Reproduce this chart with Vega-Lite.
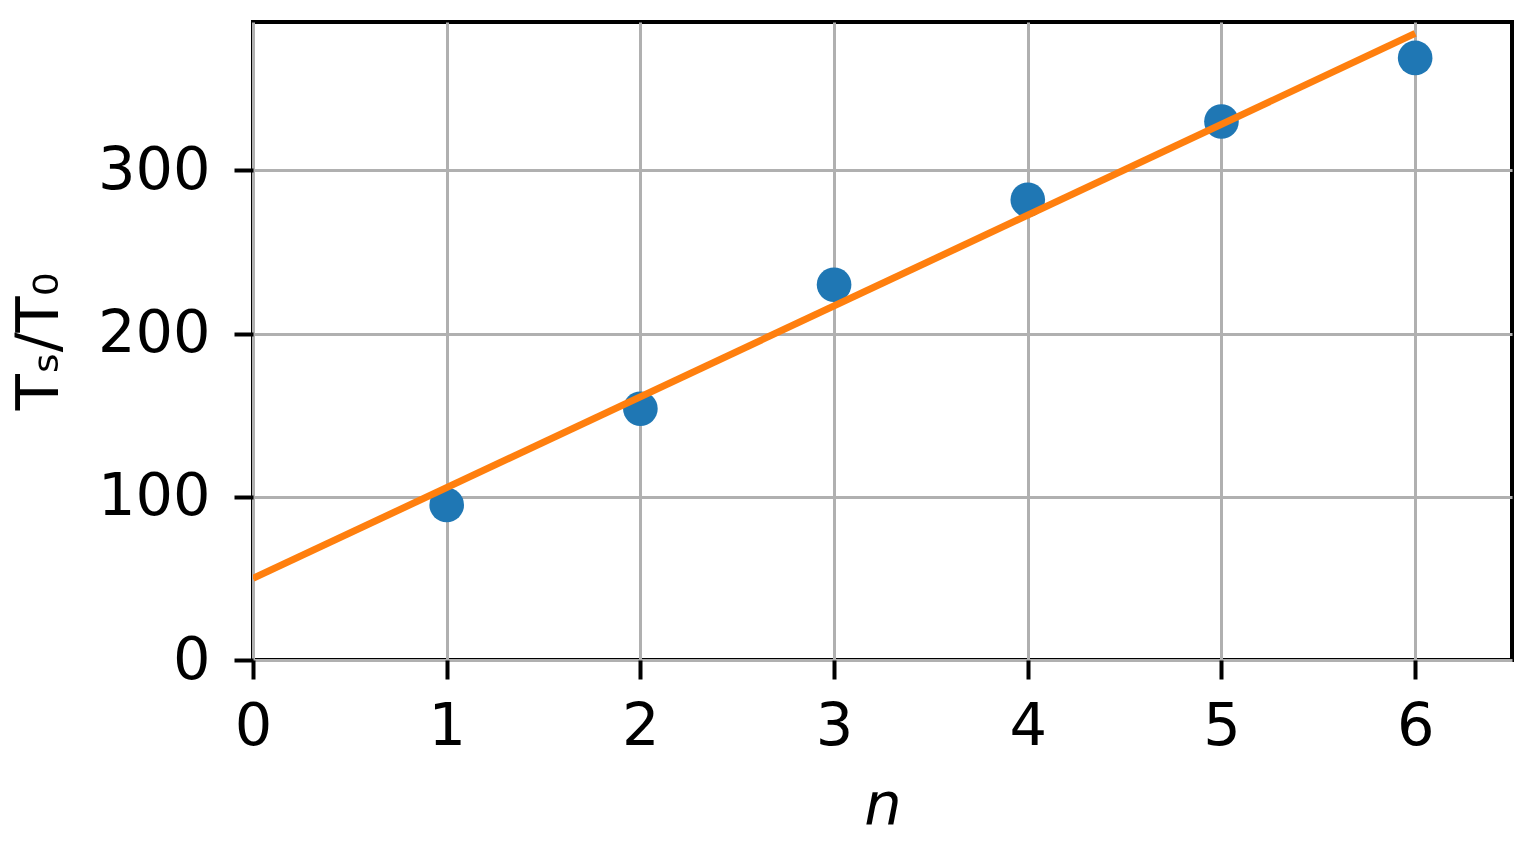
{
  "$schema": "https://vega.github.io/schema/vega-lite/v6.json",
  "autosize": "none",
  "width": 1259,
  "height": 638,
  "padding": {"left": 253, "top": 22, "right": 20, "bottom": 190},
  "background": "white",
  "config": {
    "font": "DejaVu Sans",
    "view": {"stroke": "black", "strokeWidth": 4},
    "axis": {
      "labelFont": "DejaVu Sans",
      "labelFontSize": 59,
      "labelColor": "black",
      "labelFlush": false,
      "labelOverlap": false,
      "titleFont": "DejaVu Sans",
      "titleFontSize": 59,
      "titleFontWeight": "normal",
      "titleColor": "black",
      "domain": false,
      "tickColor": "black",
      "tickWidth": 4,
      "tickSize": 19,
      "gridColor": "#b0b0b0",
      "gridWidth": 3,
      "gridOpacity": 1
    }
  },
  "datasets": {
    "points": [
      {"n": 1, "ratio": 95},
      {"n": 2, "ratio": 154},
      {"n": 3, "ratio": 230},
      {"n": 4, "ratio": 282},
      {"n": 5, "ratio": 330},
      {"n": 6, "ratio": 369}
    ],
    "fit": [
      {"n": 0, "ratio": 50},
      {"n": 6, "ratio": 384}
    ]
  },
  "layer": [
    {
      "data": {"name": "points"},
      "mark": {"type": "circle", "color": "#1f77b4", "opacity": 1, "size": 1200},
      "encoding": {
        "x": {
          "field": "n",
          "type": "quantitative",
          "scale": {"domain": [0, 6.5], "nice": false},
          "axis": {
            "values": [0, 1, 2, 3, 4, 5, 6],
            "format": "d",
            "title": "n",
            "titleFontStyle": "italic",
            "titlePadding": 20,
            "labelPadding": 18
          }
        },
        "y": {
          "field": "ratio",
          "type": "quantitative",
          "scale": {"domain": [0, 391], "nice": false},
          "axis": {
            "values": [0, 100, 200, 300],
            "format": "d",
            "title": "Tₛ/T₀",
            "titlePadding": 28,
            "labelPadding": 24
          }
        }
      }
    },
    {
      "data": {"name": "fit"},
      "mark": {"type": "line", "color": "#ff7f0e", "strokeWidth": 7, "clip": true},
      "encoding": {
        "x": {"field": "n", "type": "quantitative"},
        "y": {"field": "ratio", "type": "quantitative"}
      }
    }
  ]
}
